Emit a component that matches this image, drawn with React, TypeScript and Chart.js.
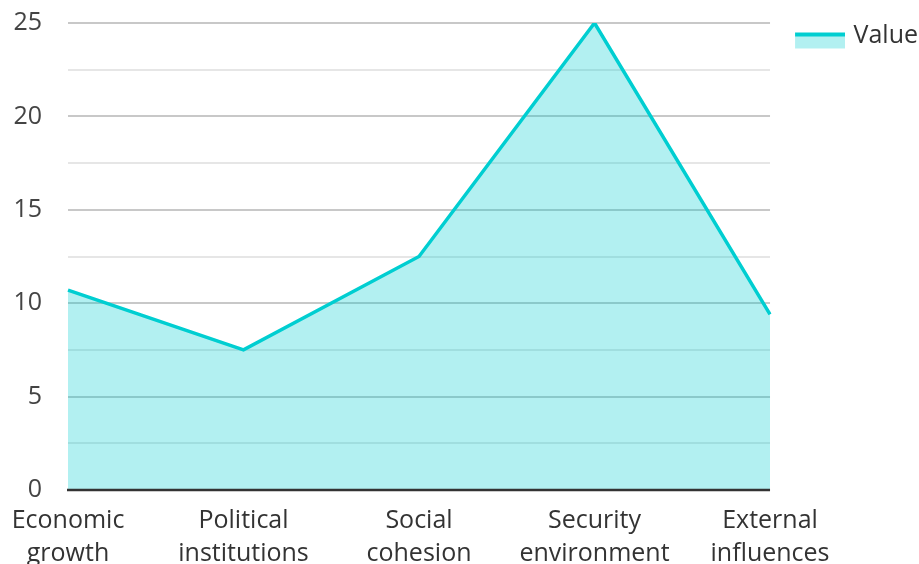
import React, { useEffect, useRef } from "react";
import { Chart, registerables } from "chart.js";

Chart.register(...registerables);

const categories: string[][] = [
  ["Economic", "growth"],
  ["Political", "institutions"],
  ["Social", "cohesion"],
  ["Security", "environment"],
  ["External", "influences"],
];
const values: number[] = [10.7, 7.5, 12.5, 25, 9.4];
const seriesName = "Value";
const yMin = 0;
const yMax = 25;
const yStep = 2.5;
const yLabelStep = 5;

const LINE = "#00CED1";
const FILL = "rgba(0,206,209,0.3)";
const FONT = "'Open Sans', 'Noto Sans', sans-serif";

function makeLegendIcon(): HTMLCanvasElement {
  const c = document.createElement("canvas");
  c.width = 79;
  c.height = 28;
  const ctx = c.getContext("2d")!;
  ctx.fillStyle = FILL;
  ctx.fillRect(29, 11, 50, 16);
  ctx.fillStyle = LINE;
  ctx.fillRect(29, 11, 50, 4);
  return c;
}

const zeroLine = {
  id: "zeroLine",
  afterDatasetsDraw(chart: any) {
    const { ctx, chartArea, scales } = chart;
    const y = scales.y.getPixelForValue(0);
    ctx.save();
    ctx.strokeStyle = "#333";
    ctx.lineWidth = 2.5;
    ctx.beginPath();
    ctx.moveTo(chartArea.left - 1, y);
    ctx.lineTo(chartArea.right, y);
    ctx.stroke();
    ctx.restore();
  },
};

export default function App() {
  const ref = useRef<HTMLCanvasElement | null>(null);
  useEffect(() => {
    if (!ref.current) return;
    const icon = makeLegendIcon();
    const chart = new Chart(ref.current, {
      type: "line",
      data: {
        labels: categories,
        datasets: [
          {
            label: seriesName,
            data: values,
            borderColor: LINE,
            backgroundColor: FILL,
            borderWidth: 3.5,
            fill: "origin",
            pointRadius: 0,
            pointStyle: icon as any,
            tension: 0,
          },
        ],
      },
      plugins: [zeroLine],
      options: {
        animation: false,
        responsive: false,
        maintainAspectRatio: false,
        layout: { padding: { top: 23, right: -9, left: 0, bottom: 0 } },
        plugins: {
          tooltip: { enabled: false },
          legend: {
            position: "right",
            align: "start",
            labels: {
              usePointStyle: true,
              pointStyleWidth: 71,
              boxHeight: 16,
              color: "#333",
              font: { family: FONT, size: 25 },
              padding: 0,
            },
          },
        },
        scales: {
          x: {
            offset: false,
            grid: { display: false, drawTicks: false },
            border: { display: false },
            afterFit: (s: any) => {
              s.height = 74;
              s.paddingLeft = 0;
              s.paddingRight = 0;
            },
            ticks: {
              color: "#333",
              font: { family: FONT, size: 25, lineHeight: 1.3 },
              maxRotation: 0,
              autoSkip: false,
              padding: 15,
            },
          },
          y: {
            min: yMin,
            max: yMax,
            afterFit: (s: any) => {
              s.width = 68;
              s.paddingTop = 0;
              s.paddingBottom = 0;
            },
            grid: {
              drawTicks: false,
              color: (ctx: any) =>
                ctx.tick && ctx.tick.value % yLabelStep === 0 ? "#c8c8c8" : "#e6e6e6",
              lineWidth: 2,
            },
            border: { display: false },
            ticks: {
              stepSize: yStep,
              color: "#444",
              padding: 26,
              font: { family: FONT, size: 25 },
              callback: (v: any) => (Number(v) % yLabelStep === 0 ? String(v) : ""),
            },
          },
        },
      },
    });
    return () => chart.destroy();
  }, []);
  return (
    <div style={{ position: "fixed", left: 0, top: 0, width: 919, height: 564, overflow: "hidden", background: "#fff" }}>
      <canvas ref={ref} width={919} height={564} style={{ display: "block" }} />
    </div>
  );
}
